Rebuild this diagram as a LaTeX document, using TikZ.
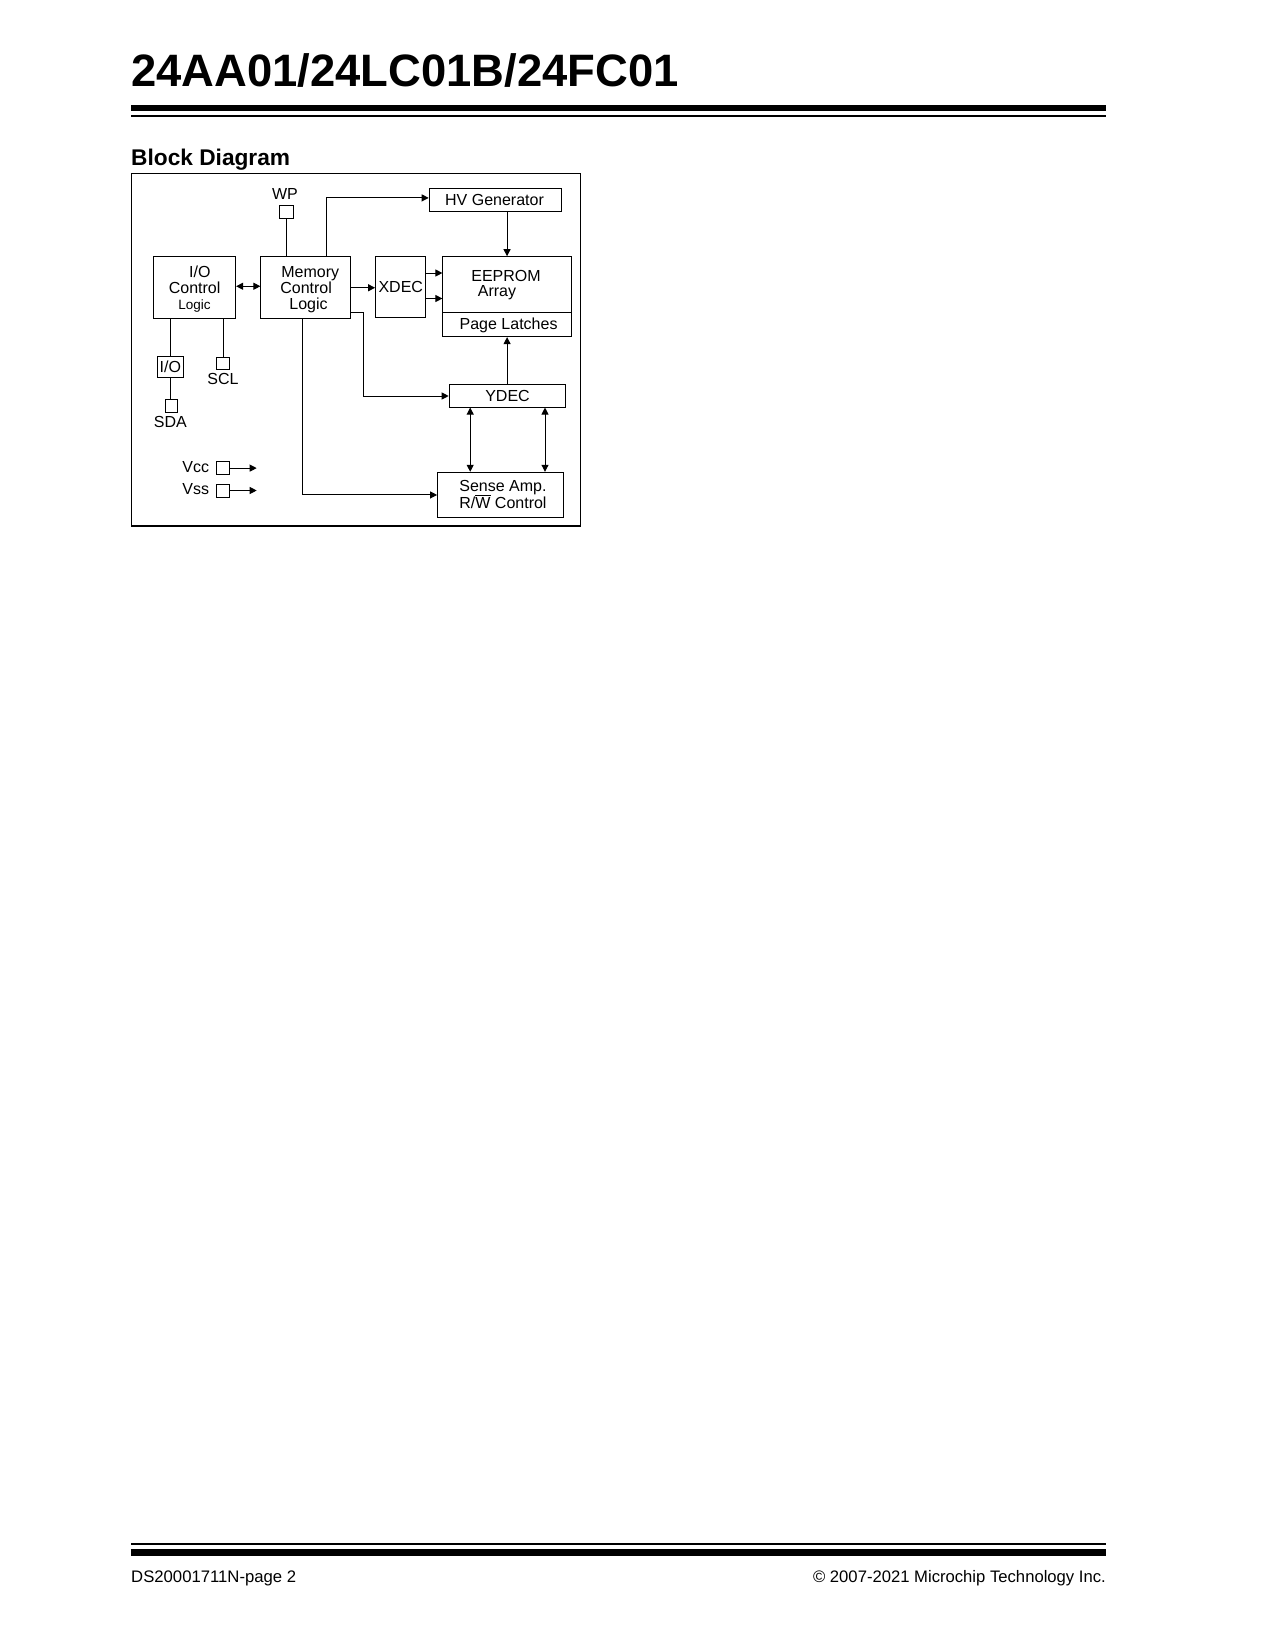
\documentclass[tikz,border=0pt]{standalone}
\usepackage{fontspec}
\setmainfont{Liberation Sans}
\usetikzlibrary{arrows.meta}
\begin{document}
\begin{tikzpicture}[x=1pt,y=-1pt,
  lbl/.style={anchor=base, inner sep=0pt, font=\fontsize{16}{18}\selectfont},
  lbls/.style={anchor=base, inner sep=0pt, font=\fontsize{13.5}{15}\selectfont},
  blk/.style={draw, line width=1pt, inner sep=0pt, rectangle},
  pin/.style={draw, line width=1pt, inner sep=0pt, rectangle},
  wire/.style={line width=1pt},
  arr/.style={wire, -{Triangle[length=7pt,width=7pt]}},
  darr/.style={wire, {Triangle[length=7pt,width=7pt]}-{Triangle[length=7pt,width=7pt]}},
  rulebar/.style={fill=black}]
\useasboundingbox (0,0) rectangle (1275,1650);
% header
\node[anchor=base west, inner sep=0pt, font=\bfseries\fontsize{45.4}{50}\selectfont] (title) at (131,86) {24AA01/24LC01B/24FC01};
\fill[rulebar] (131,104.5) rectangle (1106,111);
\fill[rulebar] (131,115) rectangle (1106,117);
\node[anchor=base west, inner sep=0pt, font=\bfseries\fontsize{22.7}{26}\selectfont] (bd) at (131,165) {Block Diagram};
% outer frame
\draw[line width=1.2pt] (131.5,173.6) rectangle (580.7,526);
% blocks
\node[blk, minimum width=82pt, minimum height=62.1pt] (io) at (194.6,287.75) {};
\node[blk, minimum width=89.4pt, minimum height=62.1pt] (mem) at (305.6,287.75) {};
\node[blk, minimum width=132.6pt, minimum height=23.2pt] (hv) at (495.5,199.9) {};
\node[blk, minimum width=49.4pt, minimum height=61pt] (xdec) at (400.3,287.2) {};
\node[blk, minimum width=128.3pt, minimum height=79.9pt] (ee) at (507.05,296.65) {};
\node[blk, minimum width=115.8pt, minimum height=22.1pt] (ydec) at (507.1,396) {};
\node[blk, minimum width=126.3pt, minimum height=45.3pt] (sense) at (500.75,494.95) {};
\node[blk, minimum width=25.2pt, minimum height=21.1pt] (iosm) at (170.4,367.2) {};
% pins
\node[pin, minimum width=14pt, minimum height=13.8pt] (wp) at (286.2,211.9) {};
\node[pin, minimum width=12.6pt, minimum height=11.8pt] (scl) at (223,363.5) {};
\node[pin, minimum width=12.6pt, minimum height=12.6pt] (sda) at (171.4,406.1) {};
\node[pin, minimum width=13pt, minimum height=12.5pt] (vccsq) at (223,468.1) {};
\node[pin, minimum width=13pt, minimum height=13pt] (vsssq) at (223,490.5) {};
\coordinate (vccend) at (256.7,468.1);
\coordinate (vssend) at (256.7,490.5);
\coordinate (div) at (0,312.4);
% EEPROM divider
\draw[wire] (ee.west |- div) -- (ee.east |- div);
% labels
\node[lbl] (twp) at (285,199) {WP};
\node[lbl] (tio1) at (199.9,277) {I/O};
\node[lbl] (tio2) at (194.6,293) {Control};
\node[lbls] (tio3) at (194.6,309) {Logic};
\node[lbl] (tm1) at (310.3,277) {Memory};
\node[lbl] (tm2) at (306.1,293) {Control};
\node[lbl] (tm3) at (308.5,309) {Logic};
\node[lbl] (thv) at (494.5,205) {HV Generator};
\node[lbl] (txd) at (400.8,292.7) {XDEC};
\node[lbl] (tee1) at (506,281) {EEPROM};
\node[lbl] (tee2) at (497,296.5) {Array};
\node[lbl] (tpl) at (508.6,329) {Page Latches};
\node[lbl] (tyd) at (507.5,401) {YDEC};
\node[lbl] (tsa1) at (503,491) {Sense Amp.};
\node[lbl] (tsa2) at (503,508) {R/$\overline{\mbox{W}}$ Control};
\node[lbl] (tiosm) at (170.4,372.5) {I/O};
\node[lbl] (tscl) at (223,384) {SCL};
\node[lbl] (tsda) at (170.4,427.5) {SDA};
\node[lbl] (tvcc) at (195.7,472.5) {Vcc};
\node[lbl] (tvss) at (195.7,494.5) {Vss};
% connectors
\draw[wire] (wp.south) -- (wp.south |- mem.north);
\draw[arr] ([xshift=20.5pt]mem.north) |- ([yshift=2pt]hv.west);
\draw[arr] (hv.south -| ee.north) -- (ee.north);
\draw[darr] ([yshift=1.5pt]io.east) -- ([yshift=1.5pt]mem.west);
\draw[arr] (mem.east) -- (mem.east -| xdec.west);
\draw[arr] ([yshift=14.2pt]xdec.east) -- ([yshift=14.2pt]xdec.east -| ee.west);
\draw[arr] ([yshift=-11.3pt]xdec.east) -- ([yshift=-11.3pt]xdec.east -| ee.west);
\draw[arr] ([yshift=-24.6pt]mem.east) -- ++(12.7,0) |- (ydec.west);
\draw[arr] (ydec.north) -- (ydec.north |- ee.south);
\draw[darr] ([xshift=-36.9pt]ydec.south) -- ([xshift=-36.9pt]ydec.south |- sense.north);
\draw[darr] ([xshift=37.9pt]ydec.south) -- ([xshift=37.9pt]ydec.south |- sense.north);
\draw[arr] ([xshift=-3.6pt]mem.south) |- (sense.west);
\draw[wire] (iosm.north |- io.south) -- (iosm.north);
\draw[wire] (scl.north |- io.south) -- (scl.north);
\draw[wire] (iosm.south) -- (iosm.south |- sda.north);
\draw[arr] (vccsq.east) -- (vccend);
\draw[arr] (vsssq.east) -- (vssend);
% footer
\fill[rulebar] (131,1543.3) rectangle (1106,1545.2);
\fill[rulebar] (131,1549.3) rectangle (1106,1556);
\node[anchor=base west, inner sep=0pt, font=\fontsize{16.7}{18}\selectfont] (fl) at (131,1582.3) {DS20001711N-page 2};
\node[anchor=base east, inner sep=0pt, font=\fontsize{16.65}{18}\selectfont] (fr) at (1106,1582.3) {\textcopyright{} 2007-2021 Microchip Technology Inc.};
\end{tikzpicture}
\end{document}
